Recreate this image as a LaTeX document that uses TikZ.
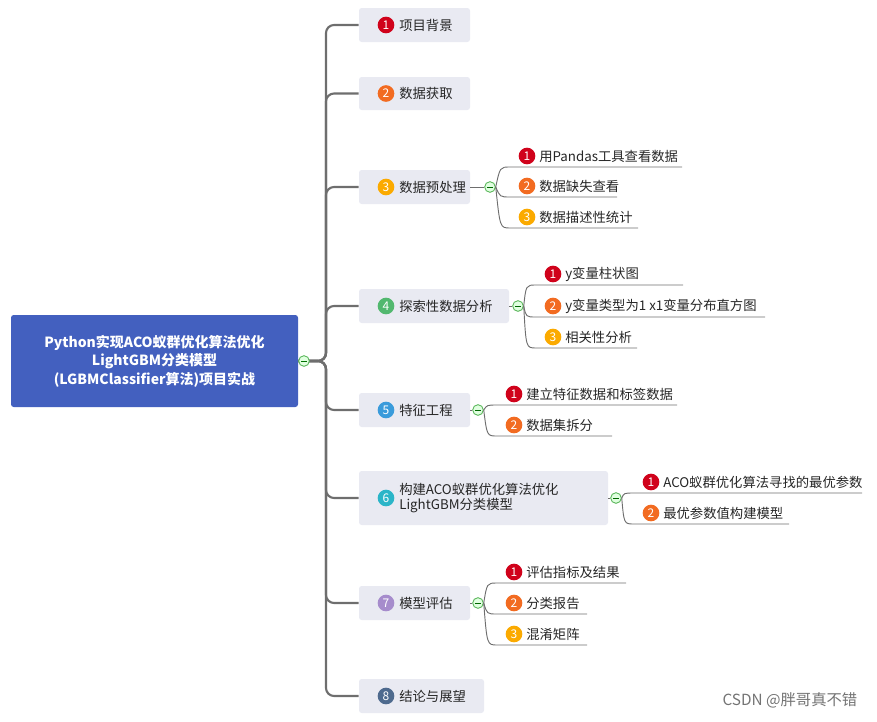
\documentclass[tikz,border=0pt]{standalone}
\usepackage{fontspec}
\setmainfont{Noto Sans CJK SC}
\definecolor{rootc}{HTML}{4360BF}
\definecolor{boxc}{HTML}{E9EAF2}
\definecolor{lnc}{HTML}{6E6E6E}
\definecolor{cA}{HTML}{D0021B}
\definecolor{cB}{HTML}{F26B21}
\definecolor{cC}{HTML}{FBAA00}
\definecolor{cD}{HTML}{52B86F}
\definecolor{cE}{HTML}{3A9BDB}
\definecolor{cF}{HTML}{2BB5C8}
\definecolor{cG}{HTML}{A68CCC}
\definecolor{cH}{HTML}{4E6A8E}
\tikzset{
 bbox/.style={fill=boxc,rounded corners=2pt,inner sep=0pt},
 badge/.style={circle,inner sep=0pt,minimum size=12.5pt,text=white,font=\fontsize{9pt}{9pt}\selectfont},
 lbl/.style={anchor=west,inner sep=0pt,font=\fontsize{10pt}{11.5pt}\selectfont,text=black!85},
 tog/.style={circle,draw=green!55!black!70,fill=green!12,line width=0.6pt,minimum size=8pt,inner sep=0pt},
 trunk/.style={draw=lnc,line width=1.6pt,rounded corners=6pt},
 twig/.style={draw=lnc,line width=0.7pt},
}
\newcommand{\mybranch}[8]{%
 \node[bbox,minimum width={(#3-#2)*0.75pt},minimum height={(#5-#4)*0.75pt}] (#1) at ({(#2+#3)/2},{(#4+#5)/2}) {};
 \node[badge,fill=#7] (#1b) at ({#2+27},{(#4+#5)/2}) {#6};
 \node[lbl,align=left] (#1t) at ({#2+40},{(#4+#5)/2}) {#8};
}
\newcommand{\mychild}[8]{%
 \coordinate (#1s) at ({#3},{#4+11});
 \coordinate (#1e) at ({#5},{#4+11});
 \draw[twig] (#2.east) .. controls ({#3-10},{#4+11}) .. (#1s) -- (#1e);
 \node[badge,fill=#7] (#1b) at ({#3+17},{#4}) {#6};
 \node[lbl] (#1t) at ({#3+29},{#4}) {#8};
}
\begin{document}
\begin{tikzpicture}[x=0.75pt,y=-0.75pt]
\useasboundingbox (0,0) rectangle (877,721);
\node[fill=rootc,rounded corners=2pt,minimum width={287*0.75pt},minimum height={92*0.75pt},text=white,align=center,font=\bfseries\fontsize{10.5pt}{14pt}\selectfont] (root) at (154.5,361) {Python实现ACO蚁群优化算法优化\\LightGBM分类模型\\(LGBMClassifier算法)项目实战};
\mybranch{n1}{359}{470}{8}{42}{1}{cA}{项目背景}
\mybranch{n2}{359}{470}{77}{110}{2}{cB}{数据获取}
\mybranch{n3}{359}{470}{170}{204}{3}{cC}{数据预处理}
\mybranch{n4}{359}{509}{289}{323}{4}{cD}{探索性数据分析}
\mybranch{n5}{359}{470}{393}{427}{5}{cE}{特征工程}
\mybranch{n6}{359}{608}{471}{525}{6}{cF}{构建ACO蚁群优化算法优化\\LightGBM分类模型}
\mybranch{n7}{359}{470}{586}{620}{7}{cG}{模型评估}
\mybranch{n8}{359}{484}{679}{713}{8}{cH}{结论与展望}
\coordinate (rj) at (326,361);
\foreach \n in {n1,n2,n3,n4,n5,n6,n7,n8}{
 \draw[trunk] (root.east) -- (rj) |- (\n.west);
}
\node[tog] (rt) at (304,361) {};
\draw[green!45!black,line width=0.5pt] (301,361) -- (307,361);
\foreach \t/\x/\y in {t3/490/187,t4/518/306,t5/478/410,t6/616/498,t7/478/603}{
 \node[tog] (\t) at (\x,\y) {};
}
\draw[twig] (n3.east) -- (t3.west);
\draw[twig] (n4.east) -- (t4.west);
\draw[twig] (n5.east) -- (t5.west);
\draw[twig] (n6.east) -- (t6.west);
\draw[twig] (n7.east) -- (t7.west);
\mychild{c31}{t3}{510}{156}{682}{1}{cA}{用Pandas工具查看数据}
\mychild{c32}{t3}{510}{186}{617}{2}{cB}{数据缺失查看}
\mychild{c33}{t3}{510}{217}{638}{3}{cC}{数据描述性统计}
\mychild{c41}{t4}{536}{274}{683}{1}{cA}{y变量柱状图}
\mychild{c42}{t4}{536}{306}{765}{2}{cB}{y变量类型为1 x1变量分布直方图}
\mychild{c43}{t4}{536}{337}{637}{3}{cC}{相关性分析}
\mychild{c51}{t5}{497}{394}{677}{1}{cA}{建立特征数据和标签数据}
\mychild{c52}{t5}{497}{425}{612}{2}{cB}{数据集拆分}
\mychild{c61}{t6}{634}{482}{862}{1}{cA}{ACO蚁群优化算法寻找的最优参数}
\mychild{c62}{t6}{634}{513}{789}{2}{cB}{最优参数值构建模型}
\mychild{c71}{t7}{497}{572}{626}{1}{cA}{评估指标及结果}
\mychild{c72}{t7}{497}{603}{587}{2}{cB}{分类报告}
\mychild{c73}{t7}{497}{634}{587}{3}{cC}{混淆矩阵}
\foreach \t in {t3,t4,t5,t6,t7}{
 \draw[green!40!black,line width=0.5pt] ([xshift=-2.3pt]\t.center) -- ([xshift=2.3pt]\t.center);
}
\node[anchor=east,text=black!55,font=\fontsize{11.5pt}{13pt}\selectfont] (wm) at (862,700) {CSDN @胖哥真不错};
\end{tikzpicture}
\end{document}
